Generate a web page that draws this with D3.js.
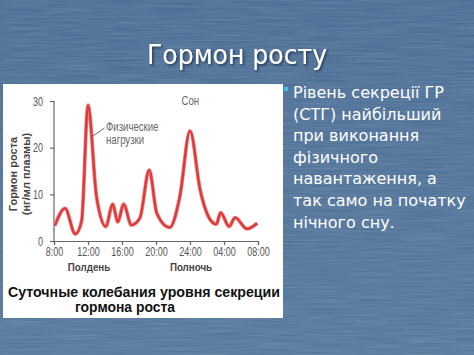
<!DOCTYPE html>
<html><head><meta charset="utf-8">
<script src="https://cdn.jsdelivr.net/npm/d3@7"></script>
<style>html,body{margin:0;padding:0;overflow:hidden;background:#4b6f96}</style>
</head><body>
<script>
// ---- data ----
const hours  = [8.1, 9.3, 10.5, 11.25, 12.0, 13.0, 14.1, 14.9, 15.5, 16.2, 17.1, 18.1, 19.2, 20.1, 21.6, 22.8, 24.0, 25.2, 26.4, 27.1, 27.6, 28.6, 29.3, 30.7, 31.9];
const values = [3.3, 7.0, 1.5, 4.3, 29.1, 9.5, 3.1, 7.9, 4.1, 7.9, 3.4, 4.9, 15.2, 5.9, 2.9, 9.5, 23.6, 10.9, 4.5, 3.6, 6.1, 3.1, 5.0, 2.6, 3.8];
const xTickHours = [8, 12, 16, 20, 24, 28, 32];
const xTickLabels = ["8:00", "12:00", "16:00", "20:00", "24:00", "04:00", "08:00"];
const yTicks = [0, 10, 20, 30];
const bulletLines = ["Рівень секреції ГР", "(СТГ) найбільший", "при виконання", "фізичного", "навантаження, а", "так само на початку", "нічного сну."];

const W = 474, H = 355;
const svg = d3.select("body").append("svg").attr("width", W).attr("height", H);
const defs = svg.append("defs");
const f = defs.append("filter").attr("id","tex").attr("x",0).attr("y",0).attr("width","100%").attr("height","100%");
f.append("feTurbulence").attr("type","fractalNoise").attr("baseFrequency","0.02 0.6").attr("numOctaves",2).attr("seed",3).attr("result","n");
f.append("feColorMatrix").attr("in","n").attr("type","matrix")
 .attr("values","0 0 0 0 0.9  0 0 0 0 0.95  0 0 0 0 1  0 0 0 0.18 0").attr("result","c");
f.append("feComposite").attr("in","c").attr("in2","SourceGraphic").attr("operator","in");
const g = defs.append("linearGradient").attr("id","bg").attr("x1",0).attr("y1",0).attr("x2",0).attr("y2",1);
g.append("stop").attr("offset","0").attr("stop-color","#456891");
g.append("stop").attr("offset","1").attr("stop-color","#4f7399");
svg.append("rect").attr("width",W).attr("height",H).attr("fill","url(#bg)");
svg.append("rect").attr("width",W).attr("height",H).attr("fill","#4b6f96").attr("filter","url(#tex)");

const sh = defs.append("filter").attr("id","sh");
sh.append("feDropShadow").attr("dx",1.5).attr("dy",1.5).attr("stdDeviation",0.8).attr("flood-color","#1b2c44").attr("flood-opacity",0.8);

// title
svg.append("text").attr("x",237).attr("y",64).attr("text-anchor","middle")
  .attr("font-family","DejaVu Sans Condensed, DejaVu Sans, sans-serif").attr("font-size",27)
  .attr("fill","#ffffff").attr("filter","url(#sh)")
  .attr("textLength",180).attr("lengthAdjust","spacingAndGlyphs").text("Гормон росту");

// white panel
svg.append("rect").attr("x",3).attr("y",84).attr("width",280).attr("height",234).attr("fill","#ffffff");

// bullet & text
svg.append("rect").attr("x",284).attr("y",87).attr("width",4).attr("height",4).attr("fill","#3cc0e0");
svg.append("g").selectAll("text").data(bulletLines).join("text")
  .attr("x",293).attr("y",(d,i)=>98 + i*21.6)
  .attr("font-family","DejaVu Sans, sans-serif").attr("font-size",16)
  .attr("fill","#ffffff").text(d=>d);

// chart
const x = d3.scaleLinear().domain([8,32]).range([54,258]);
const y = d3.scaleLinear().domain([0,30]).range([241,101]);
const tickFont = "Liberation Sans, Arial, sans-serif";
const sx = 0.72;

const yAx = svg.append("g").attr("transform","translate(54,0)")
  .call(d3.axisLeft(y).tickValues(yTicks).tickSize(4).tickPadding(7).tickFormat(d3.format("d")));
const xAx = svg.append("g").attr("transform","translate(0,241)")
  .call(d3.axisBottom(x).tickValues(xTickHours).tickSize(4).tickPadding(3).tickFormat((d,i)=>xTickLabels[i]));
[yAx,xAx].forEach(a=>{
  a.select(".domain").attr("stroke","#666").attr("stroke-width",1.2);
  a.selectAll(".tick line").attr("stroke","#666").attr("stroke-width",1.2);
  a.selectAll("text").attr("font-family",tickFont).attr("font-size",12.5).attr("fill","#555");
});
yAx.selectAll(".domain").attr("d","M0,241V101");
yAx.selectAll(".tick text").attr("x",-11/sx).attr("transform",`scale(${sx},1)`);
xAx.selectAll(".tick text").attr("y",6).attr("dy","0.71em").attr("transform",`scale(${sx},1)`);

const line = d3.line().x((d,i)=>x(hours[i])).y(d=>y(d)).curve(d3.curveMonotoneX);
svg.append("path").datum(values).attr("d",line).attr("fill","none")
  .attr("stroke","#f08a88").attr("stroke-width",3.8).attr("stroke-linejoin","round");
svg.append("path").datum(values).attr("d",line).attr("fill","none")
  .attr("stroke","#df3a3b").attr("stroke-width",2.4).attr("stroke-linejoin","round");

// helper for horizontally condensed text
function ctext(xp, yp, str, opts){
  const t = svg.append("g").attr("transform",`translate(${xp},${yp}) scale(${opts.sx||0.82},1)`)
    .append("text").attr("font-family",tickFont).attr("font-size",opts.size)
    .attr("fill",opts.fill).attr("text-anchor",opts.anchor||"start").text(str);
  if (opts.bold) t.attr("font-weight","bold");
  return t;
}

// annotations
svg.append("line").attr("x1",91.5).attr("y1",137).attr("x2",104.5).attr("y2",128).attr("stroke","#666").attr("stroke-width",1);
ctext(106,131,"Физические",{size:12,fill:"#666",sx:0.8});
ctext(106,143.5,"нагрузки",{size:12,fill:"#666",sx:0.8});
ctext(181.5,105,"Сон",{size:12,fill:"#666",sx:0.8});

ctext(89,270.5,"Полдень",{size:11.5,fill:"#444",bold:true,anchor:"middle",sx:0.85});
ctext(191,270.5,"Полночь",{size:11.5,fill:"#444",bold:true,anchor:"middle",sx:0.85});

// y axis title
const yt = svg.append("g").attr("transform","translate(0,174) rotate(-90)");
yt.append("text").attr("x",0).attr("y",17).attr("text-anchor","middle").attr("font-family",tickFont)
  .attr("font-weight","bold").attr("font-size",11).attr("fill","#444").text("Гормон роста");
yt.append("text").attr("x",0).attr("y",30).attr("text-anchor","middle").attr("font-family",tickFont)
  .attr("font-weight","bold").attr("font-size",11).attr("fill","#444").text("(нг/мл плазмы)");

// caption
svg.append("text").attr("x",8).attr("y",297).attr("font-family","Liberation Sans, Arial, sans-serif")
  .attr("font-weight","bold").attr("font-size",14.5).attr("fill","#111")
  .attr("textLength",272).attr("lengthAdjust","spacingAndGlyphs").text("Суточные колебания уровня секреции");
svg.append("text").attr("x",75).attr("y",312).attr("font-family","Liberation Sans, Arial, sans-serif")
  .attr("font-weight","bold").attr("font-size",14.5).attr("fill","#111")
  .attr("textLength",100).attr("lengthAdjust","spacingAndGlyphs").text("гормона роста");
</script>
</body></html>
